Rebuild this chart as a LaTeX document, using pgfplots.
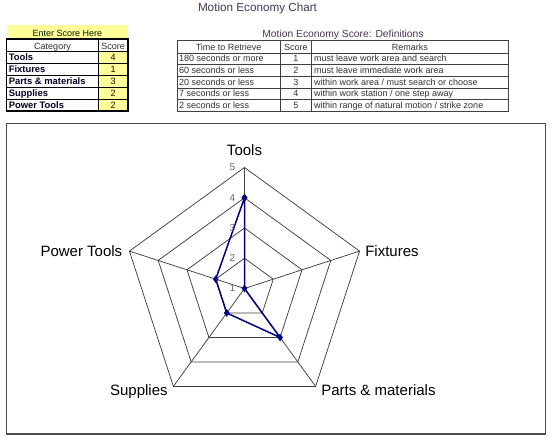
\documentclass[border=0pt]{standalone}
\usepackage{fontspec}
\setmainfont{Liberation Sans}
\usepackage{pgfplots}
\usepackage{pgfplotstable}
\pgfplotsset{compat=1.18}

\definecolor{cellyellow}{HTML}{FFFF99}
\definecolor{navyline}{HTML}{000080}
\definecolor{titlepurple}{HTML}{4A3458}
\definecolor{gridgray}{HTML}{404040}
\definecolor{celltext}{HTML}{303030}

% scores entered in the sheet, angle of each spoke in degrees
\pgfplotstableread{
angle score
90 4
18 1
-54 3
-126 2
162 2
90 4
}\scores

% vertices of one ring of the web
\pgfplotstableread{
angle k
90 1
18 1
-54 1
-126 1
162 1
90 1
}\ring

% one spoke, from the centre to score 5
\pgfplotstableread{
r k
0 1
4 1
}\spoke

\begin{document}
\begin{tikzpicture}[x=1pt,y=1pt]
\path[use as bounding box] (0,0) rectangle (555,-447);

% titles
\node[anchor=base, inner sep=0, text=titlepurple, font=\fontsize{11.7}{14}\selectfont]
  at (257.5,-12) {Motion Economy Chart};
\node[anchor=base, inner sep=0, text=titlepurple, font=\fontsize{10.3}{12}\selectfont]
  at (343,-37.2) {Motion Economy Score: Definitions};

% left table: entered scores
\fill[cellyellow] (6.7,-25) rectangle (128.3,-39);
\node[anchor=base, inner sep=0, text=black!70!green!40!black, font=\fontsize{9}{11}\selectfont]
  at (67.5,-36) {Enter Score Here};
\fill[cellyellow] (98.3,-51.7) rectangle (128,-111);
\foreach \i in {1,...,4}
  \draw[black, line width=0.7pt] (6.7,{-51.7-11.86*\i}) -- (128,{-51.7-11.86*\i});
\draw[black, line width=0.7pt] (6.7,-51.7) -- (128,-51.7);
\draw[black, line width=0.7pt] (98.3,-39) -- (98.3,-111);
\draw[black, line width=1.3pt] (6.7,-39) rectangle (128,-111);
\node[anchor=base, inner sep=0, text=celltext, font=\fontsize{9}{11}\selectfont]
  at (52.5,-49) {Category};
\node[anchor=base, inner sep=0, text=celltext, font=\fontsize{9}{11}\selectfont]
  at (113.2,-49) {Score};
\foreach \name/\val [count=\i] in {Tools/4, Fixtures/1, Parts \& materials/3, Supplies/2, Power Tools/2}{
  \node[anchor=base west, inner sep=0, text=black!85!blue, font=\fontsize{9.4}{11}\bfseries]
    at (8.6,{-51.7-11.86*\i+2.6}) {\name};
  \node[anchor=base, inner sep=0, text=black!80!red, font=\fontsize{9}{11}\selectfont]
    at (113.2,{-51.7-11.86*\i+2.6}) {\val};
}

% right table: definitions
\foreach \i in {0,...,4}
  \draw[gridgray, line width=0.6pt] (177.3,{-53-11.6*\i}) -- (508,{-53-11.6*\i});
\draw[gridgray, line width=0.6pt] (280,-40.7) -- (280,-111);
\draw[gridgray, line width=0.6pt] (311.7,-40.7) -- (311.7,-111);
\draw[gridgray, line width=1pt] (177.3,-40.7) rectangle (508,-111);
\node[anchor=base, inner sep=0, text=celltext, font=\fontsize{9}{11}\selectfont]
  at (228.6,-50.2) {Time to Retrieve};
\node[anchor=base, inner sep=0, text=celltext, font=\fontsize{9}{11}\selectfont]
  at (295.9,-50.2) {Score};
\node[anchor=base, inner sep=0, text=celltext, font=\fontsize{9}{11}\selectfont]
  at (409.9,-50.2) {Remarks};
\foreach \t/\s/\r [count=\i] in {
  {180 seconds or more}/1/{must leave work area and search},
  {60 seconds or less}/2/{must leave immediate work area},
  {20 seconds or less}/3/{within work area / must search or choose},
  {7 seconds or less}/4/{within work station / one step away},
  {2 seconds or less}/5/{within range of natural motion / strike zone}}{
  \node[anchor=base west, inner sep=0, text=celltext, font=\fontsize{9}{11}\selectfont]
    at (179,{-53-11.6*\i+2.7}) {\t};
  \node[anchor=base, inner sep=0, text=celltext, font=\fontsize{9}{11}\selectfont]
    at (295.9,{-53-11.6*\i+2.7}) {\s};
  \node[anchor=base west, inner sep=0, text=celltext, font=\fontsize{9}{11}\selectfont]
    at (314,{-53-11.6*\i+2.7}) {\r};
}

% chart area
\draw[gray!60!black, line width=1.1pt] (6.7,-123.3) rectangle (545.7,-434);

\begin{axis}[
    at={(244.5pt,-288.5pt)}, anchor=center,
    x=30.25pt, y=30.25pt,
    xmin=-4.2, xmax=4.2, ymin=-4.2, ymax=4.2,
    axis lines=none,
    clip=false,
  ]
  % pentagon rings for scores 2 to 5 (the centre is score 1)
  \pgfplotsinvokeforeach{1,2,3,4}{
    \addplot[gridgray, line width=0.75pt, mark=none]
      table[x expr={#1*cos(\thisrow{angle})}, y expr={#1*sin(\thisrow{angle})}] {\ring};
  }
  \pgfplotsinvokeforeach{90,18,-54,-126,162}{
    \addplot[gridgray, line width=0.75pt, mark=none]
      table[x expr={\thisrow{r}*cos(#1)}, y expr={\thisrow{r}*sin(#1)}] {\spoke};
  }

  \addplot[navyline, line width=1.5pt, mark=diamond*, mark size=2.6pt,
           mark options={solid, fill=navyline}]
    table[x expr={(\thisrow{score}-1)*cos(\thisrow{angle})},
          y expr={(\thisrow{score}-1)*sin(\thisrow{angle})}] {\scores};

  % value labels along the Tools spoke
  \node[anchor=east, inner sep=0, xshift=-9pt, text=gray!80!black, font=\fontsize{10}{12}\selectfont] at (axis cs:0,0) {1};
  \node[anchor=east, inner sep=0, xshift=-9pt, text=gray!80!black, font=\fontsize{10}{12}\selectfont] at (axis cs:0,1) {2};
  \node[anchor=east, inner sep=0, xshift=-9pt, text=gray!80!black, font=\fontsize{10}{12}\selectfont] at (axis cs:0,2) {3};
  \node[anchor=east, inner sep=0, xshift=-9pt, text=gray!80!black, font=\fontsize{10}{12}\selectfont] at (axis cs:0,3) {4};
  \node[anchor=east, inner sep=0, xshift=-9pt, text=gray!80!black, font=\fontsize{10}{12}\selectfont] at (axis cs:0,4) {5};

  % category labels
  \node[anchor=base, inner sep=0, yshift=11.6pt, font=\fontsize{15}{18}\selectfont]
    at (axis cs:0,4) {Tools};
  \node[anchor=base west, inner sep=0, xshift=5.5pt, yshift=-5pt, font=\fontsize{15}{18}\selectfont]
    at (axis cs:3.8042,1.2361) {Fixtures};
  \node[anchor=base west, inner sep=0, xshift=5.5pt, yshift=-9pt, font=\fontsize{15}{18}\selectfont]
    at (axis cs:2.3511,-3.2361) {Parts \& materials};
  \node[anchor=base east, inner sep=0, xshift=-5.5pt, yshift=-9.5pt, font=\fontsize{15}{18}\selectfont]
    at (axis cs:-2.3511,-3.2361) {Supplies};
  \node[anchor=base east, inner sep=0, xshift=-7pt, yshift=-5.3pt, font=\fontsize{15}{18}\selectfont]
    at (axis cs:-3.8042,1.2361) {Power Tools};
\end{axis}
\end{tikzpicture}
\end{document}
